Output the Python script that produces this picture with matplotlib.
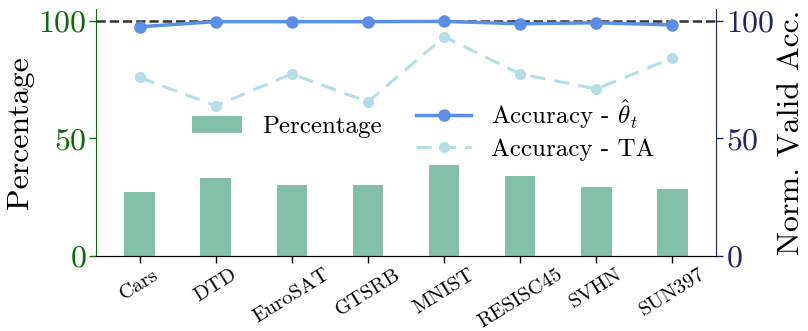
import matplotlib
matplotlib.use("Agg")
import matplotlib.pyplot as plt
import numpy as np

plt.rcParams["font.family"] = "serif"
plt.rcParams["font.serif"] = ["cmr10", "DejaVu Serif"]
plt.rcParams["mathtext.fontset"] = "cm"
plt.rcParams["axes.formatter.use_mathtext"] = True

datasets = ["Cars", "DTD", "EuroSAT", "GTSRB", "MNIST", "RESISC45", "SVHN", "SUN397"]
percentage = [27.2, 33.2, 30.2, 30.2, 38.7, 34.0, 29.4, 28.5]
acc_theta = [97.6, 99.8, 99.8, 99.8, 99.9, 98.9, 99.3, 98.4]
acc_ta = [76.0, 63.9, 77.5, 65.6, 93.3, 77.5, 71.1, 84.3]

LEFT_COLOR = "#0b6b0b"
RIGHT_COLOR = "#23236b"
BAR_COLOR = "#82c0aa"
THETA_COLOR = "#5b8ee6"
TA_COLOR = "#b3dde8"


def main() -> None:
    fig = plt.figure(figsize=(8.08, 3.31), dpi=100)
    ax = fig.add_axes([0.119, 0.2275, 0.767, 0.744])
    x = np.arange(len(datasets))

    ax.bar(x, percentage, width=0.4, color=BAR_COLOR, label="Percentage", zorder=2)
    ax.set_ylim(0, 105)
    ax.set_xlim(-0.57, 7.57)
    ax.set_yticks([0, 50, 100])
    ax.set_ylabel("Percentage", fontsize=23, labelpad=3)
    ax.tick_params(axis="y", colors=LEFT_COLOR, labelsize=23, length=5, width=1, pad=2)
    ax.yaxis.label.set_color("black")
    ax.spines["left"].set_color(LEFT_COLOR)
    ax.spines["top"].set_visible(False)
    ax.spines["right"].set_visible(False)
    ax.set_xticks(x)
    ax.set_xticklabels(datasets, rotation=32, fontsize=15)
    ax.tick_params(axis="x", length=5, width=1, pad=2)

    ax2 = ax.twinx()
    ax2.set_ylim(0, 105)
    ax2.set_yticks([0, 50, 100])
    ax2.axhline(100, color="#333333", linestyle="--", linewidth=1.8, zorder=1)
    ax2.plot(x, acc_theta, color=THETA_COLOR, marker="o", markersize=8,
             linewidth=2.5, label=r"Accuracy - $\hat{\theta}_t$")
    ax2.plot(x, acc_ta, color=TA_COLOR, marker="o", markersize=7,
             linewidth=2.2, linestyle="--", dashes=(5, 3), label="Accuracy - TA")
    ax2.set_ylabel("Norm. Valid Acc.", fontsize=23, labelpad=3)
    ax2.tick_params(axis="y", colors=RIGHT_COLOR, labelsize=23, length=5, width=1, pad=2)
    ax2.yaxis.label.set_color("black")
    ax2.spines["right"].set_color(RIGHT_COLOR)
    ax2.spines["left"].set_visible(False)
    ax2.spines["top"].set_visible(False)

    ax.legend(loc="center left", bbox_to_anchor=(0.118, 0.522), frameon=False,
              fontsize=18, handlelength=2.0, handleheight=0.7)
    ax2.legend(loc="center left", bbox_to_anchor=(0.48, 0.515), frameon=False,
               fontsize=18, handlelength=2.2, labelspacing=0.3)

    fig.savefig("out.png", dpi=100)
    plt.close(fig)


if __name__ == "__main__":
    main()
